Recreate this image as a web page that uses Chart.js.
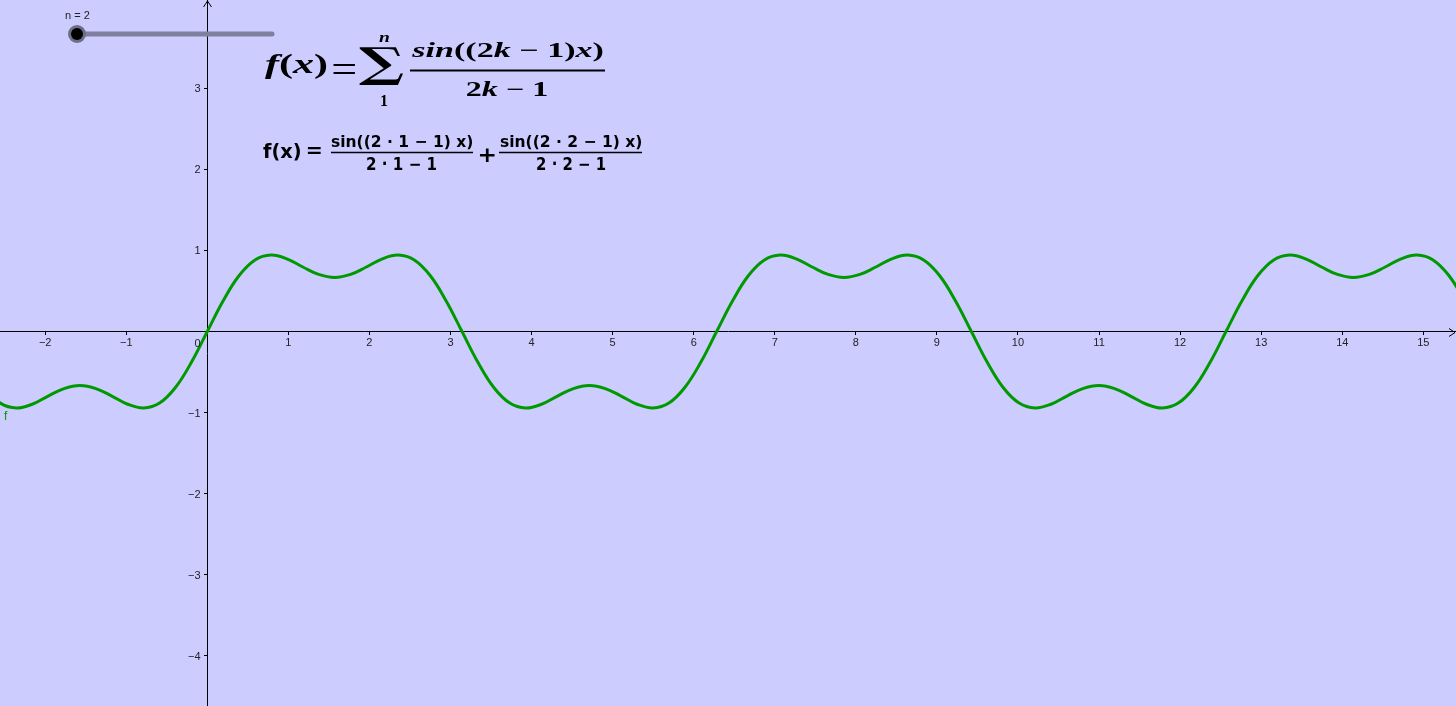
<!DOCTYPE html>
<html>
<head>
<meta charset="utf-8">
<script src="https://cdn.jsdelivr.net/npm/chart.js@4.4.1/dist/chart.umd.min.js"></script>
<style>
  html, body { margin: 0; padding: 0; background: #ccccff; overflow: hidden; }
  #wrap { width: 1456px; height: 706px; position: relative; }
</style>
</head>
<body>
<div id="wrap"><canvas id="graph"></canvas></div>
<script>
const xValues = [
  -2.749, -2.553, -2.356, -2.160, -1.963, -1.767, -1.571, -1.374, -1.178, -0.982, -0.785, -0.589, -0.393, -0.196,
  0, 0.196, 0.393, 0.589, 0.785, 0.982, 1.178, 1.374, 1.571, 1.767, 1.963, 2.160, 2.356, 2.553, 2.749, 2.945,
  3.142, 3.338, 3.534, 3.731, 3.927, 4.123, 4.320, 4.516, 4.712, 4.909, 5.105, 5.301, 5.498, 5.694, 5.890, 6.087,
  6.283, 6.480, 6.676, 6.872, 7.069, 7.265, 7.461, 7.658, 7.854, 8.050, 8.247, 8.443, 8.639, 8.836, 9.032, 9.228,
  9.425, 9.621, 9.817, 10.014, 10.210, 10.407, 10.603, 10.799, 10.996, 11.192, 11.388, 11.585, 11.781, 11.977, 12.174, 12.370,
  12.566, 12.763, 12.959, 13.155, 13.352, 13.548, 13.744, 13.941, 14.137, 14.334, 14.530, 14.726, 14.923, 15.119, 15.315, 15.512
];
const fValues = [
  -0.691, -0.883, -0.943, -0.897, -0.796, -0.704, -0.667, -0.704, -0.796, -0.897, -0.943, -0.883, -0.691, -0.380,
  0, 0.380, 0.691, 0.883, 0.943, 0.897, 0.796, 0.704, 0.667, 0.704, 0.796, 0.897, 0.943, 0.883, 0.691, 0.380,
  0, -0.380, -0.691, -0.883, -0.943, -0.897, -0.796, -0.704, -0.667, -0.704, -0.796, -0.897, -0.943, -0.883, -0.691, -0.380,
  0, 0.380, 0.691, 0.883, 0.943, 0.897, 0.796, 0.704, 0.667, 0.704, 0.796, 0.897, 0.943, 0.883, 0.691, 0.380,
  0, -0.380, -0.691, -0.883, -0.943, -0.897, -0.796, -0.704, -0.667, -0.704, -0.796, -0.897, -0.943, -0.883, -0.691, -0.380,
  0, 0.380, 0.691, 0.883, 0.943, 0.897, 0.796, 0.704, 0.667, 0.704, 0.796, 0.897, 0.943, 0.883, 0.691, 0.380
];
const xTickValues = [-2, -1, 1, 2, 3, 4, 5, 6, 7, 8, 9, 10, 11, 12, 13, 14, 15];
const yTickValues = [-4, -3, -2, -1, 1, 2, 3];
const sliderLabel = 'n = 2';
const curveLabel = 'f';

const GREEN = '#009900';
const LABEL_FONT = '11px "Liberation Sans", Arial, sans-serif';

function fmt(v) {
  return v < 0 ? '\u2212' + Math.abs(v) : String(v);
}

// draws a row of text pieces, stretched so the ink fills the given box
function fitRuns(ctx, parts, box) {
  let adv = 0, l = Infinity, r = -Infinity, t = -Infinity, b = -Infinity;
  const placed = parts.map(([txt, font]) => {
    ctx.font = font;
    const m = ctx.measureText(txt);
    l = Math.min(l, adv - m.actualBoundingBoxLeft);
    r = Math.max(r, adv + m.actualBoundingBoxRight);
    t = Math.max(t, m.actualBoundingBoxAscent);
    b = Math.max(b, m.actualBoundingBoxDescent);
    const p = { txt, font, x: adv };
    adv += m.width;
    return p;
  });
  const sx = (box[2] - box[0]) / (r - l);
  const sy = (box[3] - box[1]) / (t + b);
  ctx.save();
  ctx.translate(box[0] - l * sx, box[1] + t * sy);
  ctx.scale(sx, sy);
  ctx.textAlign = 'left';
  ctx.textBaseline = 'alphabetic';
  placed.forEach(p => { ctx.font = p.font; ctx.fillText(p.txt, p.x, 0); });
  ctx.restore();
}

function bar(ctx, x1, x2, y, w) {
  ctx.fillRect(x1, y - w / 2, x2 - x1, w);
}

const geoDecor = {
  id: 'geoDecor',
  beforeDraw(chart) {
    const ctx = chart.ctx;
    ctx.save();
    ctx.fillStyle = '#ccccff';
    ctx.fillRect(0, 0, chart.width, chart.height);
    ctx.restore();
  },
  afterDraw(chart) {
    const ctx = chart.ctx;
    const xs = chart.scales.x, ys = chart.scales.y;
    const x0 = Math.round(xs.getPixelForValue(0)) + 0.5;
    const y0 = Math.round(ys.getPixelForValue(0)) + 0.5;
    const area = chart.chartArea;
    ctx.save();

    // axis arrows
    ctx.strokeStyle = '#000';
    ctx.lineWidth = 1;
    ctx.beginPath();
    ctx.moveTo(area.right - 7, y0 - 4);
    ctx.lineTo(area.right - 1, y0);
    ctx.lineTo(area.right - 7, y0 + 4);
    ctx.moveTo(x0 - 4, area.top + 7);
    ctx.lineTo(x0, area.top + 1);
    ctx.lineTo(x0 + 4, area.top + 7);
    ctx.stroke();

    // y tick labels, left of the axis
    ctx.fillStyle = '#222';
    ctx.font = LABEL_FONT;
    ctx.textAlign = 'right';
    ctx.textBaseline = 'middle';
    yTickValues.forEach(v => {
      ctx.fillText(fmt(v), x0 - 7, ys.getPixelForValue(v) + 1);
    });

    // origin label
    ctx.textBaseline = 'top';
    ctx.fillText('0', x0 - 7, y0 + 6);

    // curve name
    ctx.fillStyle = GREEN;
    ctx.font = '12px "Liberation Sans", Arial, sans-serif';
    ctx.textAlign = 'left';
    ctx.textBaseline = 'alphabetic';
    ctx.fillText(curveLabel, 4, 420);

    // slider
    ctx.fillStyle = '#222';
    ctx.font = LABEL_FONT;
    ctx.fillText(sliderLabel, 65, 19);
    ctx.strokeStyle = '#7f7f9e';
    ctx.lineWidth = 5;
    ctx.lineCap = 'round';
    ctx.beginPath();
    ctx.moveTo(77, 34);
    ctx.lineTo(272, 34);
    ctx.stroke();
    ctx.beginPath();
    ctx.arc(77, 34, 9, 0, Math.PI * 2);
    ctx.fillStyle = '#6e6e88';
    ctx.fill();
    ctx.beginPath();
    ctx.arc(77, 34, 6, 0, Math.PI * 2);
    ctx.fillStyle = '#000';
    ctx.fill();

    // general formula
    const S = '"Liberation Serif", "DejaVu Serif", serif';
    const I = 'italic bold 26px ' + S;
    const B = 'bold 26px ' + S;
    ctx.fillStyle = '#000';
    fitRuns(ctx, [['f', I], ['(', B], ['x', I], [')', B]], [265, 53, 327, 79]);
    fitRuns(ctx, [['=', '26px ' + S]], [333, 65, 356, 75]);
    fitRuns(ctx, [['\u2211', 'bold 40px "DejaVu Serif", serif']], [359, 47, 404, 85]);
    fitRuns(ctx, [['n', 'italic bold 16px ' + S]], [379, 35, 390, 42]);
    fitRuns(ctx, [['1', 'bold 16px ' + S]], [381, 95, 388, 106]);
    fitRuns(ctx, [['sin', I], ['((', B], ['2', B], ['k', I], [' \u2212 ', B], ['1', B], [')', B], ['x', I], [')', B]],
      [411, 43, 603, 62]);
    bar(ctx, 410, 605, 70.5, 2);
    fitRuns(ctx, [['2', B], ['k', I], [' \u2212 ', B], ['1', B]], [467, 82, 547, 96]);

    // expanded formula for n = 2
    const F = 'bold 16px "DejaVu Sans", sans-serif';
    fitRuns(ctx, [['f(x)', F]], [263, 144, 300, 162]);
    fitRuns(ctx, [['=', F]], [307, 149, 321, 155]);
    fitRuns(ctx, [['sin((2 \u00b7 1 \u2212 1) x)', F]], [331, 135, 472, 150]);
    bar(ctx, 331, 473, 152.5, 1.5);
    fitRuns(ctx, [['2 \u00b7 1 \u2212 1', F]], [367, 157, 437, 170]);
    fitRuns(ctx, [['+', F]], [479, 147, 495, 162]);
    fitRuns(ctx, [['sin((2 \u00b7 2 \u2212 1) x)', F]], [500, 135, 641, 150]);
    bar(ctx, 499, 642, 152.5, 1.5);
    fitRuns(ctx, [['2 \u00b7 2 \u2212 1', F]], [537, 157, 606, 170]);

    ctx.restore();
  }
};

const points = xValues.map((x, i) => ({ x: x, y: fValues[i] }));

new Chart(document.getElementById('graph'), {
  type: 'line',
  data: {
    datasets: [{
      label: curveLabel,
      data: points,
      borderColor: GREEN,
      borderWidth: 3,
      pointRadius: 0,
      fill: false,
      tension: 0.4
    }]
  },
  options: {
    responsive: true,
    maintainAspectRatio: false,
    animation: false,
    events: [],
    layout: { padding: 0 },
    plugins: { legend: { display: false }, tooltip: { enabled: false } },
    scales: {
      x: {
        type: 'linear',
        min: -2.557,
        max: 15.403,
        position: { y: 0 },
        afterBuildTicks: s => { s.ticks = xTickValues.map(v => ({ value: v })); },
        ticks: {
          autoSkip: false,
          maxRotation: 0,
          includeBounds: false,
          padding: 2,
          color: '#222',
          font: { family: '"Liberation Sans", Arial, sans-serif', size: 11 },
          callback: v => fmt(v)
        },
        grid: { drawOnChartArea: false, drawTicks: true, tickLength: 3, tickColor: '#000' },
        border: { display: true, color: '#000', width: 1 }
      },
      y: {
        type: 'linear',
        min: -4.619,
        max: 4.089,
        position: { x: 0 },
        afterBuildTicks: s => { s.ticks = yTickValues.map(v => ({ value: v })); },
        ticks: { display: false, includeBounds: false },
        grid: { drawOnChartArea: false, drawTicks: true, tickLength: 3, tickColor: '#000' },
        border: { display: true, color: '#000', width: 1 }
      }
    }
  },
  plugins: [geoDecor]
});
</script>
</body>
</html>
